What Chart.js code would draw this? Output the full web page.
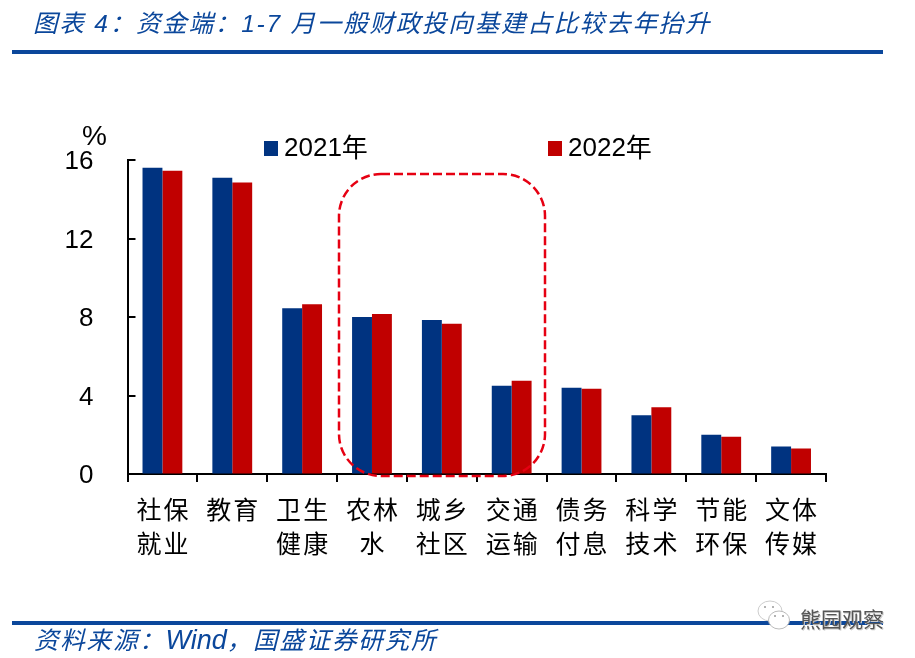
<!DOCTYPE html>
<html>
<head>
<meta charset="utf-8">
<script src="https://cdn.jsdelivr.net/npm/chart.js@4"></script>
<style>
html, body { margin: 0; padding: 0; background: #fff; }
#wrap { position: relative; width: 915px; height: 658px; overflow: hidden; }
#grafica { position: absolute; left: 0; top: 0; }
.rule { position: absolute; left: 12px; width: 871px; height: 4px; background: #0b479b; }
.txt { position: absolute; white-space: nowrap; color: #0b479b; font-style: italic; font-family: "Liberation Sans", "Noto Sans CJK SC", sans-serif; }
#titulo { left: 33px; top: 6px; font-size: 24.5px; line-height: 36px; letter-spacing: 1.8px; }
#fuente { left: 34px; top: 622px; font-size: 24.5px; line-height: 36px; letter-spacing: 1.8px; }
#fuente span { letter-spacing: 0; font-size: 27px; }
#marca { position: absolute; left: 800px; top: 604px; font-size: 21px; line-height: 28px; color: #555; white-space: nowrap; font-family: "Noto Sans CJK SC", sans-serif; text-shadow: 1px 1px 0 #ccc; }
#icono { position: absolute; left: 755px; top: 600px; }
</style>
</head>
<body>
<div id="wrap">
  <canvas id="grafica" width="915" height="658"></canvas>
  <div class="txt" id="titulo">图表 4&#xFF1A;资金端&#xFF1A;1-7 月一般财政投向基建占比较去年抬升</div>
  <div class="rule" style="top:50px"></div>
  <div class="rule" style="top:621px"></div>
  <div class="txt" id="fuente">资料来源&#xFF1A;<span>Wind</span>&#xFF0C;国盛证券研究所</div>
  <svg id="icono" width="40" height="36" viewBox="0 0 40 36">
    <ellipse cx="15" cy="11" rx="12" ry="10" fill="#fff" stroke="#ccc"/>
    <ellipse cx="24" cy="20" rx="10.5" ry="9" fill="#fff" stroke="#bbb"/>
    <circle cx="20" cy="16" r="1" fill="#999"/><circle cx="28" cy="16" r="1" fill="#999"/>
    <circle cx="10" cy="7" r="1" fill="#999"/><circle cx="18" cy="7" r="1" fill="#999"/>
  </svg>
  <div id="marca">熊园观察</div>
</div>
<script>
const categorias = [['社保', '就业'], ['教育', ''], ['卫生', '健康'], ['农林', '水'], ['城乡', '社区'],
                    ['交通', '运输'], ['债务', '付息'], ['科学', '技术'], ['节能', '环保'], ['文体', '传媒']];
const serie2021 = [15.6, 15.1, 8.45, 8.0, 7.85, 4.5, 4.4, 3.0, 2.0, 1.4];
const serie2022 = [15.45, 14.85, 8.65, 8.15, 7.65, 4.75, 4.35, 3.4, 1.9, 1.3];
const ticksY = [0, 4, 8, 12, 16];

const fuenteNum = '"Liberation Sans", Arial, sans-serif';
const fuenteCJK = '"Noto Sans CJK SC", sans-serif';

// leyenda, unidad, marcas interiores del eje Y y recuadro rojo
const extras = {
    id: 'extras',
    beforeDraw(chart) {
        // separa los caracteres solo en las etiquetas del eje X
        const esc = chart.scales.x;
        if (esc._conEspacio) return;
        const original = esc.drawLabels;
        esc.drawLabels = function(area) {
            const c = this.ctx;
            c.save();
            c.letterSpacing = '2px';
            c.translate(1, 0);
            original.call(this, area);
            c.restore();
        };
        esc._conEspacio = true;
    },
    afterDraw(chart) {
        const { ctx, scales } = chart;
        ctx.save();
        // marcas hacia dentro
        ctx.strokeStyle = '#000';
        ctx.lineWidth = 2;
        ticksY.forEach(function(v) {
            const y = Math.round(scales.y.getPixelForValue(v));
            ctx.beginPath();
            ctx.moveTo(scales.x.left, y);
            ctx.lineTo(scales.x.left + 8, y);
            ctx.stroke();
        });
        // recuadro
        ctx.strokeStyle = '#e60012';
        ctx.lineWidth = 2.5;
        ctx.setLineDash([9, 4]);
        ctx.beginPath();
        ctx.roundRect(339, 174, 206, 302, 42);
        ctx.stroke();
        ctx.setLineDash([]);
        // leyenda
        const posX = [264, 548];
        ctx.textBaseline = 'middle';
        ctx.textAlign = 'left';
        chart.data.datasets.forEach(function(d, i) {
            ctx.fillStyle = d.backgroundColor;
            ctx.fillRect(posX[i], 141, 14, 15);
            ctx.fillStyle = '#000';
            ctx.font = '26px ' + fuenteNum;
            ctx.fillText(d.label.slice(0, 4), posX[i] + 20, 149);
            const w = ctx.measureText(d.label.slice(0, 4)).width;
            ctx.font = '26px ' + fuenteCJK;
            ctx.fillText(d.label.slice(4), posX[i] + 20 + w, 147);
        });
        // unidad
        ctx.font = '28px ' + fuenteNum;
        ctx.fillText('%', 82, 137);
        ctx.restore();
    }
};

const ctx = document.getElementById('grafica').getContext('2d');
const grafica = new Chart(ctx, {
    type: 'bar',
    data: {
        labels: categorias,
        datasets: [
            { label: '2021年', data: serie2021, backgroundColor: '#003380' },
            { label: '2022年', data: serie2022, backgroundColor: '#c00000' }
        ]
    },
    options: {
        responsive: false,
        animation: false,
        devicePixelRatio: 1,
        layout: { padding: { top: 160, right: 89, left: 0, bottom: 0 } },
        plugins: { legend: { display: false }, tooltip: { enabled: false } },
        datasets: { bar: { categoryPercentage: 0.57, barPercentage: 1 } },
        scales: {
            x: {
                afterFit(s) { s.height = 184; },
                grid: { display: true, drawOnChartArea: false, drawTicks: true, tickLength: 8, color: '#000', lineWidth: 2 },
                border: { color: '#000', width: 2 },
                ticks: {
                    color: '#000',
                    maxRotation: 0,
                    autoSkip: false,
                    padding: 10,
                    font: { family: fuenteCJK, size: 25, lineHeight: 1.36 }
                }
            },
            y: {
                min: 0,
                max: 16,
                afterFit(s) { s.width = 127.5; },
                afterBuildTicks(s) { s.ticks = ticksY.map(function(v) { return { value: v }; }); },
                grid: { drawOnChartArea: false, drawTicks: false },
                border: { color: '#000', width: 2 },
                ticks: {
                    color: '#000',
                    padding: 34,
                    labelOffset: 2,
                    font: { family: fuenteNum, size: 26 }
                }
            }
        }
    },
    plugins: [extras]
});
</script>
</body>
</html>
